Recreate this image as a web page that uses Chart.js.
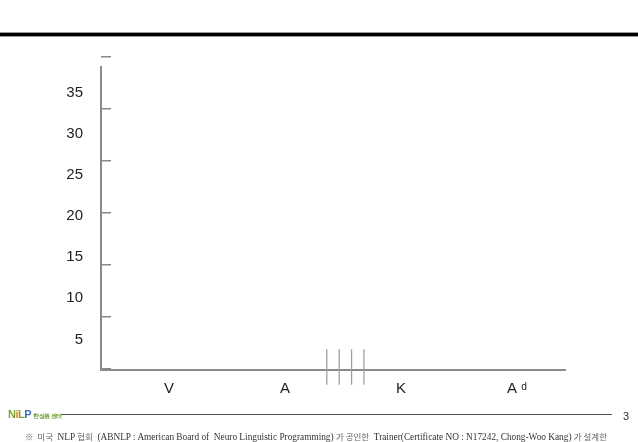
<!DOCTYPE html>
<html>
<head>
<meta charset="utf-8">
<script src="https://cdn.jsdelivr.net/npm/chart.js"></script>
<style>
  body { margin: 0; background: #fff; }
  #page { position: relative; width: 638px; height: 442px; overflow: hidden; font-family: "Liberation Sans", Arial, sans-serif; }
  #topline { position: absolute; left: 0; top: 32px; width: 638px; height: 3px; background: #000; border-top: 1px solid #999; border-bottom: 1px solid #999; }
  #graphCanvas { position: absolute; left: 0; top: 40px; }
  #logo { position: absolute; left: 8px; top: 408px; font-size: 11px; font-weight: bold; letter-spacing: -0.5px; }
  #logo small { font-size: 6px; color: #6a9a2a; font-weight: bold; margin-left: 2px; }
  #footline { position: absolute; left: 61px; top: 414px; width: 551px; height: 1px; background: #555; }
  #pageno { position: absolute; left: 623px; top: 410px; font-size: 11px; color: #333; }
  #note { position: absolute; left: 25px; top: 430px; font-size: 9.3px; color: #333; white-space: nowrap; font-family: "Liberation Serif", "Noto Sans CJK KR", serif; }
  #note .k { font-family: "Noto Sans CJK KR", sans-serif; color: #666; font-size: 8.5px; }
</style>
</head>
<body>
<div id="page">
  <div id="topline"></div>
  <canvas id="graphCanvas" width="638" height="370"></canvas>
  <div id="logo"><span style="color:#7aa332">N</span><span style="color:#e08a1e">i</span><span style="color:#7aa332">L</span><span style="color:#3b6fb6">P</span><small>한성원 센터</small></div>
  <div id="footline"></div>
  <div id="pageno">3</div>
  <div id="note"><span class="k">※&nbsp; 미국</span>&nbsp; NLP <span class="k">협회</span>&nbsp; (ABNLP : American Board of&nbsp; Neuro Linguistic Programming) <span class="k">가 공인한</span>&nbsp; Trainer(Certificate NO : N17242, Chong-Woo Kang) <span class="k">가 설계한</span></div>
</div>
<script>
// chart values
var categories = ['V', 'A', 'K', 'A \u1D48'];
var values = [null, null, null, null];
var yLabels = [5, 10, 15, 20, 25, 30, 35];
var tickMarks = [0, 1, 2, 3, 4, 5, 6];

// short vertical strokes crossing the axis between A and K
var markX = [1.44, 1.56, 1.68, 1.80];
var markLow = -0.52;
var markHigh = 3.8;

var axisGrey = '#8a8a8a';

var datasets = [
  {
    type : 'bar',
    data : values,
    backgroundColor : '#4472c4',
    xAxisID : 'x',
    yAxisID : 'y'
  }
];

markX.forEach(function(x) {
  datasets.push({
    type : 'line',
    data : [ {x : x, y : markLow}, {x : x, y : markHigh} ],
    borderColor : '#a0a0a0',
    borderWidth : 1.3,
    pointRadius : 0,
    clip : false,
    xAxisID : 'x2',
    yAxisID : 'y'
  });
});

var ctx = document.getElementById('graphCanvas');

var chart = new Chart(ctx, {
  type : 'bar',
  data : {
    labels : categories,
    datasets : datasets
  },
  options : {
    responsive : false,
    animation : false,
    layout : { padding : { left : 0, right : 73, top : 23, bottom : 0 } },
    plugins : {
      legend : { display : false },
      tooltip : { enabled : false }
    },
    scales : {
      x : {
        type : 'category',
        position : 'bottom',
        offset : true,
        grid : { display : false, drawTicks : false },
        border : { color : axisGrey, width : 2 },
        ticks : {
          color : '#222',
          font : { family : 'Liberation Sans', size : 15 },
          padding : 10,
          labelOffset : 10,
          maxRotation : 0
        },
        afterFit : function(s) { s.height = 40; }
      },
      x2 : {
        type : 'linear',
        display : false,
        min : -0.5,
        max : 3.5
      },
      y : {
        position : 'left',
        weight : 1,
        min : 1.28,
        max : 38.12,
        grid : { display : false, drawTicks : false },
        border : { color : axisGrey, width : 2 },
        ticks : {
          color : '#222',
          font : { family : 'Liberation Sans', size : 15 },
          padding : 18
        },
        afterBuildTicks : function(s) {
          s.ticks = yLabels.map(function(v) { return { value : v }; });
        },
        afterFit : function(s) { s.width = 101; }
      },
      y2 : {
        position : 'left',
        weight : 0,
        min : -0.02,
        max : 5.8,
        grid : {
          drawOnChartArea : false,
          drawTicks : true,
          tickLength : -10,
          color : axisGrey,
          lineWidth : 1.5
        },
        border : { display : false },
        ticks : { display : false },
        afterBuildTicks : function(s) {
          s.ticks = tickMarks.map(function(v) { return { value : v }; });
        },
        afterFit : function(s) { s.width = 0; }
      }
    }
  }
});
</script>
</body>
</html>
